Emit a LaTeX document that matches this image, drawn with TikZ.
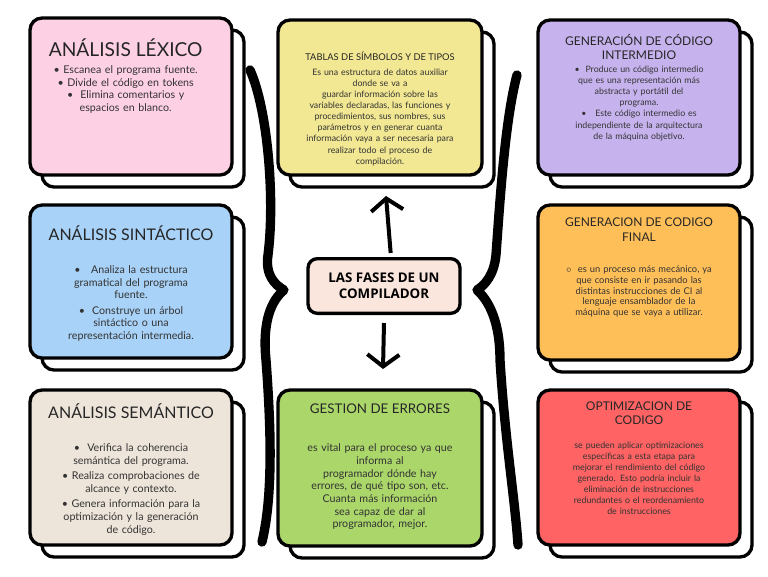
\documentclass[tikz,border=0pt]{standalone}
\usepackage{fontspec}
\setmainfont{Lato}
\newfontfamily\ttlfont{Open Sans}
\usetikzlibrary{arrows.meta}
\definecolor{cLex}{HTML}{FDD0E4}
\definecolor{cSin}{HTML}{A8D2F7}
\definecolor{cSem}{HTML}{EEE5DA}
\definecolor{cTab}{HTML}{F2E792}
\definecolor{cCen}{HTML}{FBE6DE}
\definecolor{cErr}{HTML}{AAD66A}
\definecolor{cInt}{HTML}{C6B3EE}
\definecolor{cFin}{HTML}{FFBF58}
\definecolor{cOpt}{HTML}{FF6363}
\newcommand{\card}[6]{% name, x1,y1,x2,y2, color
  \draw[line width=2.5pt,fill=white,rounded corners=9pt] (#2+12,#3+12) rectangle (#4+12,#5+12);
  \draw[line width=2.5pt,fill=#6,rounded corners=9pt] (#2,#3) rectangle (#4,#5);
  \coordinate (#1) at ({(#2+#4)/2},#3);}
\tikzset{
  ttl/.style={anchor=north,align=center,font=\large,text=black!85},
  bdy/.style={anchor=north,align=center,font=\scriptsize,text=black!80,inner sep=1pt},
  small7/.style={font=\fontsize{6.6}{8.3}\selectfont},
  brace/.style={line width=7pt,line cap=round,line join=round},
  arr/.style={line width=3pt,-{Straight Barb[length=9pt,width=24pt,line width=3pt]}}
}
\begin{document}
\begin{tikzpicture}[x=0.75pt,y=-0.75pt]
\useasboundingbox (0,0) rectangle (768,576);
\card{lex}{30}{18}{232}{175}{cLex}
\card{sin}{30}{205}{232}{358}{cSin}
\card{sem}{30}{390}{232}{545}{cSem}
\card{tab}{278}{20}{482}{175}{cTab}
\card{err}{278}{390}{482}{546}{cErr}
\card{int}{538}{20}{740}{175}{cInt}
\card{fin}{538}{205}{740}{360}{cFin}
\card{opt}{538}{390}{740}{545}{cOpt}
% titles
\node[ttl,font=\Large] (lexT) at ([xshift=-4pt,yshift=-12pt]lex) {ANÁLISIS LÉXICO};
\node[bdy,font=\footnotesize,text width=140pt] (lexB) at ([yshift=-2pt]lexT.south) {\textbullet\ Escanea el programa fuente.\\ \textbullet\ Divide el código en tokens\\ \textbullet\ \ Elimina comentarios y\\ espacios en blanco.};
\node[ttl] (sinT) at ([yshift=-12pt]sin) {ANÁLISIS SINTÁCTICO};
\node[bdy,font=\footnotesize,text width=140pt] (sinB) at ([yshift=-14pt]sinT.south) {\textbullet\ \ \ Analiza la estructura\\ gramatical del programa\\ fuente.\\[2pt] \textbullet\ \ Construye un árbol\\ sintáctico o una\\ representación intermedia.};
\node[ttl] (semT) at ([yshift=-7pt]sem) {ANÁLISIS SEMÁNTICO};
\node[bdy,font=\footnotesize,text width=140pt] (semB) at ([yshift=-14pt]semT.south) {\textbullet\ \ Verifica la coherencia\\ semántica del programa.\\[2pt] \textbullet\ Realiza comprobaciones de\\ alcance y contexto.\\[2pt] \textbullet\ Genera información para la\\ optimización y la generación\\ de código.};
\node[ttl,font=\scriptsize] (tabT) at ([yshift=-20pt]tab) {TABLAS DE SÍMBOLOS Y DE TIPOS};
\node[bdy,small7,text width=145pt] (tabB) at ([yshift=-2pt]tabT.south) {Es una estructura de datos auxiliar\\ donde se va a\\ guardar información sobre las\\ variables declaradas, las funciones y\\ procedimientos, sus nombres, sus\\ parámetros y en generar cuanta\\ información vaya a ser necesaria para\\ realizar todo el proceso de\\ compilación.};
\node[ttl,font=\normalsize] (errT) at ([yshift=-7pt]err) {GESTION DE ERRORES};
\node[bdy,font=\footnotesize,text width=140pt] (errB) at ([yshift=-18pt]errT.south) {es vital para el proceso ya que\\ informa al\\ programador dónde hay\\ errores, de qué tipo son, etc.\\ Cuanta más información\\ sea capaz de dar al\\ programador, mejor.};
\node[ttl,font=\small] (intT) at ([yshift=-7pt]int) {GENERACIÓN DE CÓDIGO\\ INTERMEDIO};
\node[bdy,small7,text width=140pt] (intB) at (intT.south) {\textbullet\ \ Produce un código intermedio\\ que es una representación más\\ abstracta y portátil del\\ programa.\\ \textbullet\ \ \ Este código intermedio es\\ independiente de la arquitectura\\ de la máquina objetivo.};
\node[ttl,font=\small] (finT) at ([yshift=-6pt]fin) {GENERACION DE CODIGO\\ FINAL};
\node[bdy,font=\scriptsize,text width=140pt] (finB) at ([yshift=-14pt]finT.south) {$\circ$\ \ es un proceso más mecánico, ya\\ que consiste en ir pasando las\\ distintas instrucciones de CI al\\ lenguaje ensamblador de la\\ máquina que se vaya a utilizar.};
\node[ttl,font=\small] (optT) at ([yshift=-5pt]opt) {OPTIMIZACION DE\\ CODIGO};
\node[bdy,small7,text width=145pt] (optB) at ([yshift=-8pt]optT.south) {se pueden aplicar optimizaciones\\ específicas a esta etapa para\\ mejorar el rendimiento del código\\ generado. Esto podría incluir la\\ eliminación de instrucciones\\ redundantes o el reordenamiento\\ de instrucciones};
% center
\node[draw,line width=2.5pt,fill=cCen,rounded corners=7pt,minimum width=114pt,minimum height=41pt,align=center,font=\ttlfont\bfseries\normalsize] (cen) at (384,286) {LAS FASES DE UN\\ COMPILADOR};
% braces
\draw[brace] (250,70) .. controls (268,110) and (275,200) .. (268,255) .. controls (265,275) and (275,285) .. (284,290)
  .. controls (272,300) and (262,320) .. (266,360) .. controls (272,440) and (272,500) .. (262,542);
\draw[brace] (517,75) .. controls (505,120) and (500,200) .. (496,255) .. controls (494,275) and (485,285) .. (477,290)
  .. controls (488,300) and (500,320) .. (500,360) .. controls (505,440) and (515,500) .. (518,545);
% arrows
\coordinate (upEnd) at (386,196);
\coordinate (dnEnd) at (383,369);
\draw[arr] ([xshift=5pt,yshift=3pt]cen.north) -- (upEnd);
\draw[arr] ([yshift=-6pt]cen.south) -- (dnEnd);
\end{tikzpicture}
\end{document}
